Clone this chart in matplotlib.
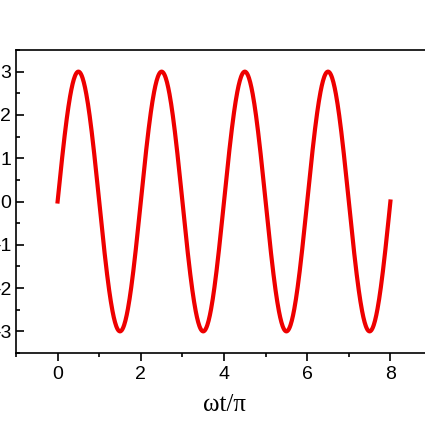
import numpy as np
import matplotlib
matplotlib.use("Agg")
import matplotlib.pyplot as plt
from matplotlib.ticker import MultipleLocator

plt.rcParams['font.family'] = ['Liberation Sans', 'DejaVu Sans']

amplitude = 3.0
x_start, x_end = 0.0, 8.0
xticks = [0, 2, 4, 6, 8]
yticks = [-3, -2, -1, 0, 1, 2, 3]

x = np.linspace(x_start, x_end, 801)
y = amplitude * np.sin(np.pi * x)

fig = plt.figure(figsize=(4.25, 4.25), dpi=100)
ax = fig.add_axes([16/425, 1-353/425, 416/425, 303/425])
ax.plot(x, y, color='#ee0000', lw=3)
ax.set_xlim(-1, 9)
ax.set_ylim(-3.5, 3.5)
ax.set_xticks(xticks)
ax.set_yticks(yticks)
ax.set_yticklabels([str(v) for v in yticks])
ax.xaxis.set_minor_locator(MultipleLocator(1))
ax.yaxis.set_minor_locator(MultipleLocator(0.5))
ax.tick_params(axis='y', which='both', direction='in', labelsize=14, width=1.2)
ax.tick_params(axis='y', which='major', length=6)
ax.tick_params(axis='y', which='minor', length=3)
ax.tick_params(axis='x', which='both', direction='out', labelsize=14, width=1.2)
ax.tick_params(axis='x', which='major', length=6)
ax.tick_params(axis='x', which='minor', length=3)
for s in ax.spines.values():
    s.set_linewidth(1.2)
ax.set_xlabel('ωt/π', fontsize=18, family=['Liberation Serif', 'DejaVu Serif'], labelpad=8)
fig.savefig('out.png', dpi=100)
